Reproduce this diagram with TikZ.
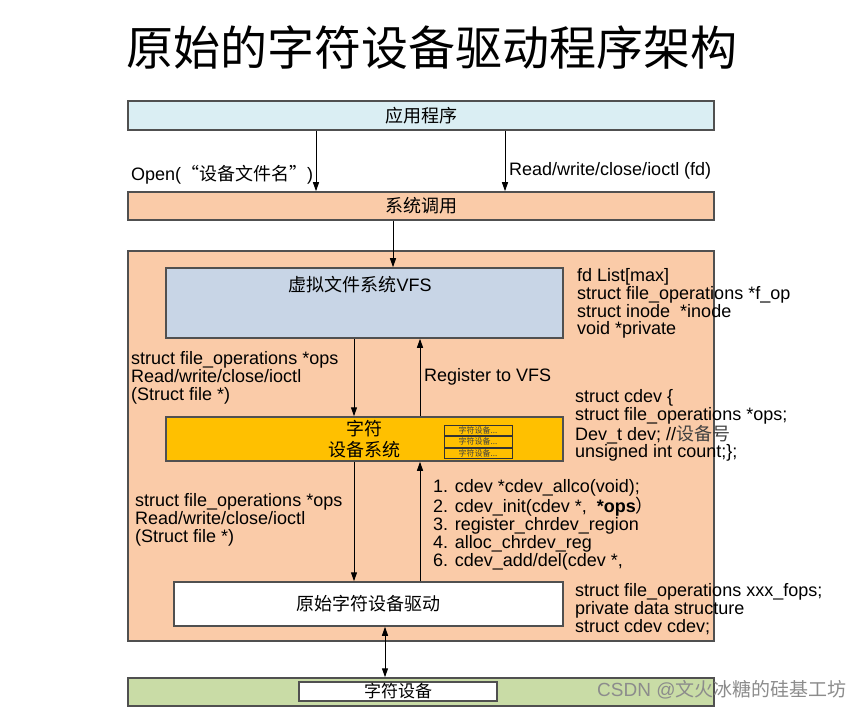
\documentclass[tikz,border=0pt]{standalone}
\usepackage{fontspec}
\setmainfont{Liberation Sans}
\newfontfamily\cjk{Noto Sans CJK SC}
\usepackage{tikz}
\usetikzlibrary{positioning,calc}
\usetikzlibrary{arrows.meta}
\definecolor{AppCyan}{RGB}{218,238,243}
\definecolor{CallPeach}{RGB}{250,203,168}
\definecolor{VfsBlue}{RGB}{200,213,230}
\definecolor{CdevGold}{RGB}{255,192,0}
\definecolor{DevGreen}{RGB}{201,220,166}
\definecolor{FrameGray}{RGB}{80,80,80}
\tikzset{
  layer/.style={draw=FrameGray,line width=1.5pt,minimum width=586pt,minimum height=28pt,
    inner sep=0pt,font=\cjk\fontsize{18}{20}\selectfont},
  box/.style={draw=FrameGray,line width=1.5pt,inner sep=0pt,align=center,
    font=\cjk\fontsize{18}{21}\selectfont},
  cell/.style={draw=black!80,line width=0.8pt,fill=CdevGold,minimum width=68pt,
    minimum height=10.7pt,inner sep=0pt,font=\cjk\fontsize{8}{8}\selectfont,text=black!75},
  note/.style={inner sep=0pt,anchor=north west,align=left,font=\fontsize{18}{17.9}\selectfont},
  arr/.style={draw=black,line width=1pt,-{Triangle[length=9pt,width=6pt]}},
  arrboth/.style={draw=black,line width=1pt,{Triangle[length=9pt,width=6pt]}-{Triangle[length=9pt,width=6pt]}},
}

\begin{document}
\begin{tikzpicture}[x=1pt,y=-1pt]
\useasboundingbox (0,0) rectangle (864,708);
\node (title) at (432,48) {\cjk\fontsize{47}{47}\selectfont 原始的字符设备驱动程序架构};

% layers
\node[layer,fill=AppCyan,minimum height=29pt] (app) at (421,115.5) {应用程序};
\node[layer,fill=CallPeach] (sys) at (421,206) {系统调用};
\node[layer,fill=CallPeach,minimum height=390pt] (core) at (421,446) {};
\node[box,fill=VfsBlue,minimum width=397pt,minimum height=70pt] (vfs) at (364.5,303) {};
\node[inner sep=0pt,font=\cjk\fontsize{18}{20}\selectfont] (vfstxt) at (360,285) {虚拟文件系统\fontspec{Liberation Sans}VFS};
\node[box,fill=CdevGold,minimum width=397pt,minimum height=44pt] (cdevsys) at (364.5,439) {字符\\设备系统};
\node[cell] (c1) at (478,430.3) {字符设备...};
\node[cell,below=0pt of c1] (c2) {字符设备...};
\node[cell,below=0pt of c2] (c3) {字符设备...};
\node[box,fill=white,minimum width=389pt,minimum height=44pt] (drv) at (368.5,604) {原始字符设备驱动};
\node[layer,fill=DevGreen] (dev) at (421,692) {};
\node[box,fill=white,minimum width=198pt,minimum height=19pt,
  font=\cjk\fontsize{17}{17}\selectfont] (devin) at (398,691.5) {字符设备};

% arrows
\coordinate (xopen) at (316,0);
\coordinate (xrw) at (505,0);
\coordinate (xsys) at (393,0);
\coordinate (xdown) at (354,0);
\coordinate (xup) at (420,0);
\coordinate (xdev) at (385,0);
\draw[arr] (app.south -| xopen) -- (sys.north -| xopen);
\draw[arr] (app.south -| xrw) -- (sys.north -| xrw);
\draw[arr] (sys.south -| xsys) -- (vfs.north -| xsys);
\draw[arr] (vfs.south -| xdown) -- (cdevsys.north -| xdown);
\draw[arr] (cdevsys.north -| xup) -- (vfs.south -| xup);
\draw[arr] (cdevsys.south -| xdown) -- (drv.north -| xdown);
\draw[arr] (drv.north -| xup) -- (cdevsys.south -| xup);
\draw[arrboth] (drv.south -| xdev) -- (dev.north -| xdev);

% texts
\node[note,anchor=west] (openlbl) at (131,175) {Open({\cjk “设备文件名”})};
\node[note,anchor=west] (rwlbl) at (509,171) {Read/write/close/ioctl (fd)};
\node[note] (vfsnote) at (577,268) {fd List[max]\\struct file\_operations *f\_op\\struct inode\ \ *inode\\void *private};
\node[note] (opsup) at (131,351) {struct file\_operations *ops\\Read/write/close/ioctl\\(Struct file *)};
\node[note,anchor=west] (reglbl) at (424,377) {Register to VFS};
\node[note] (cdevnote) at (575,389) {struct cdev \{\\struct file\_operations *ops;\\Dev\_t dev; //{\cjk\color{black!75}设备号}\\unsigned int count;\};};
\node[note] (opsdown) at (135,493) {struct file\_operations *ops\\Read/write/close/ioctl\\(Struct file *)};
\node[note] (steps) at (433,479) {1. cdev *cdev\_allco(void);\\2. cdev\_init(cdev *,\ \ \textbf{*ops}{\cjk ）}\\3. register\_chrdev\_region\\4. alloc\_chrdev\_reg\\6. cdev\_add/del(cdev *,};
\node[note] (drvnote) at (575,583) {struct file\_operations xxx\_fops;\\private data structure\\struct cdev cdev;};
\node[anchor=west,inner sep=0pt,text=black!45,font=\fontsize{19}{19}\selectfont] (mark) at (597,690) {CSDN @{\cjk 文火冰糖的硅基工坊}};
\end{tikzpicture}
\end{document}
